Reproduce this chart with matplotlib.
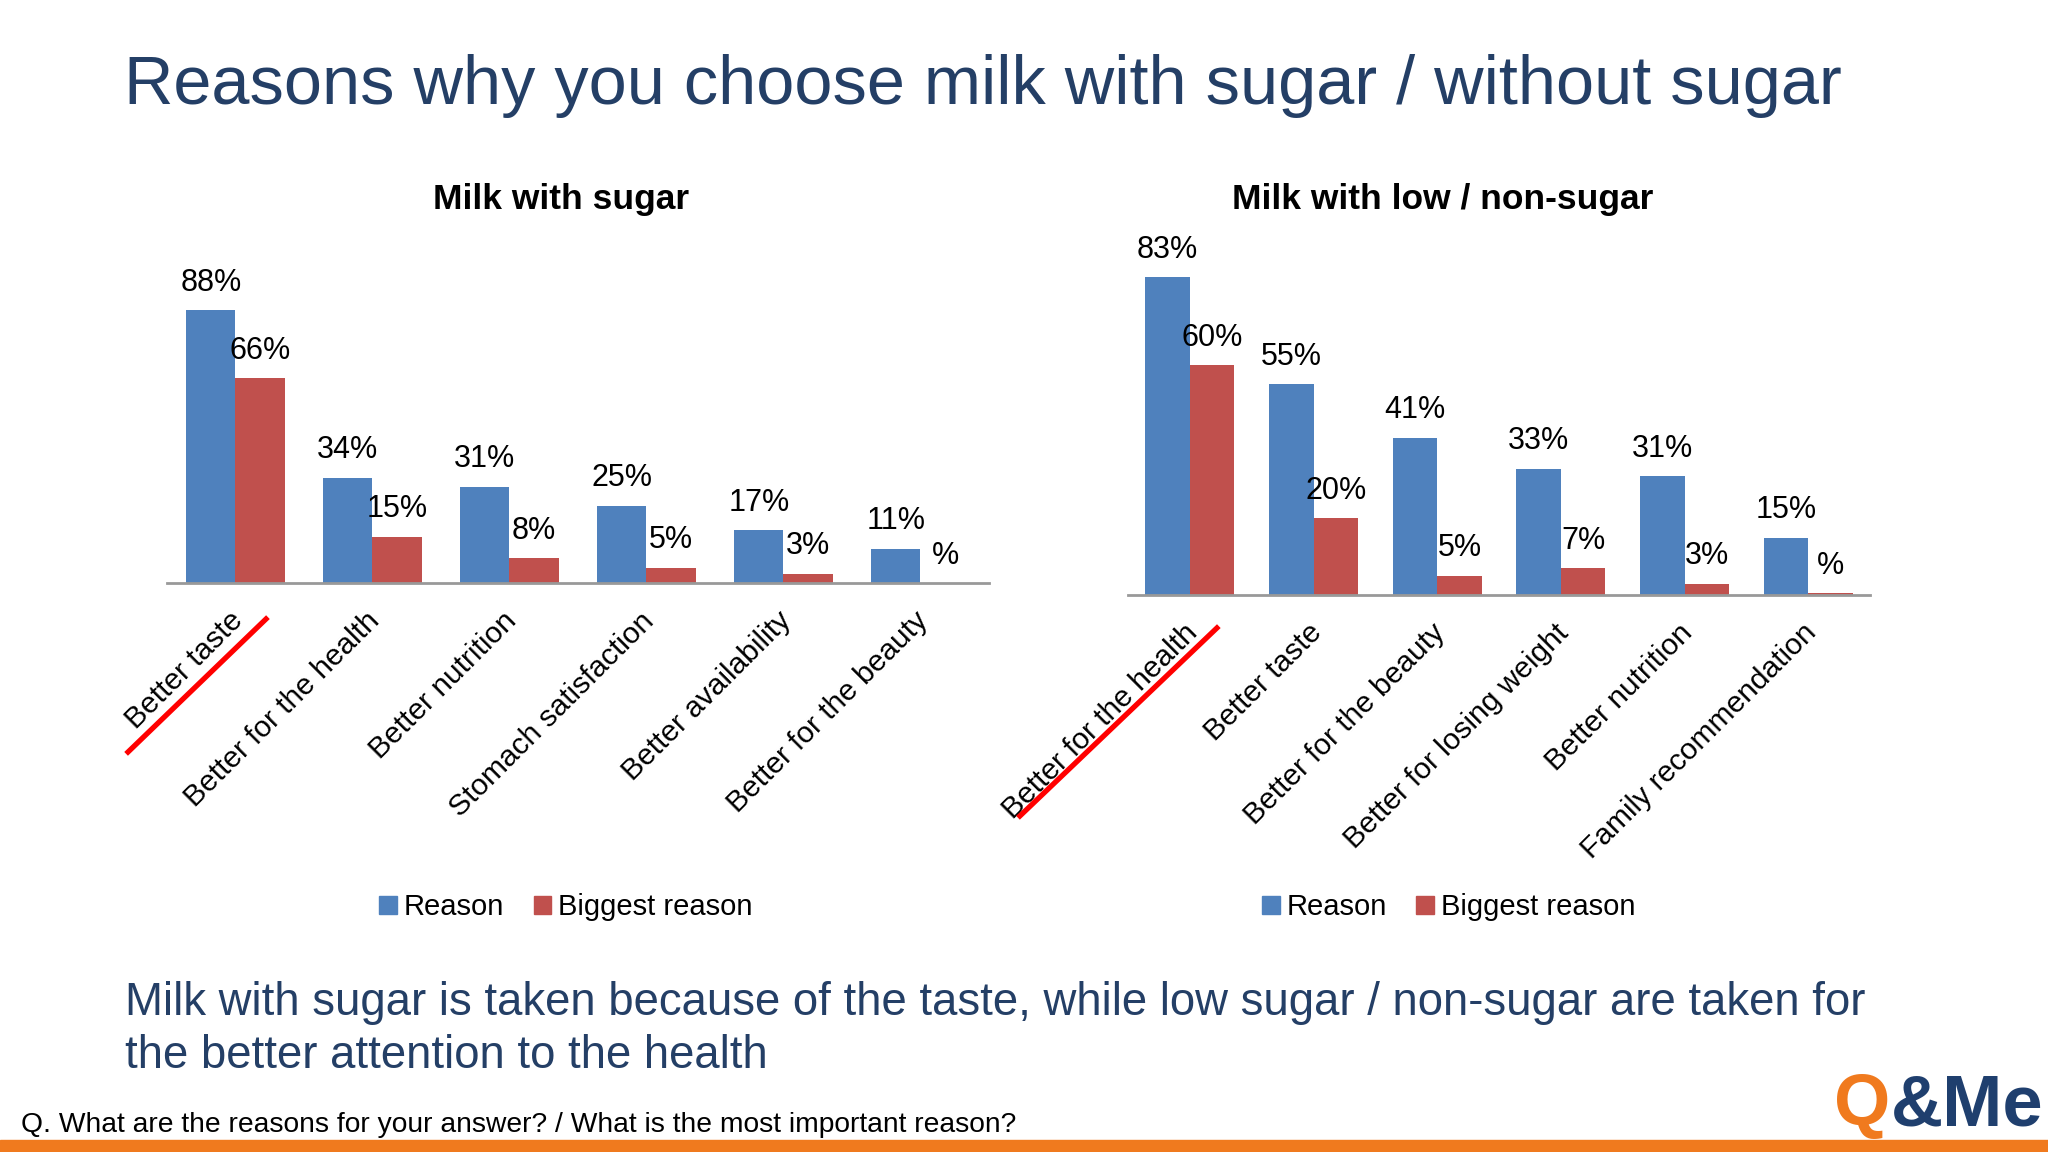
import matplotlib
matplotlib.use("Agg")
import matplotlib.pyplot as plt
from matplotlib.lines import Line2D
from matplotlib.patches import Rectangle, Patch
import numpy as np

plt.rcParams['font.family'] = ['Liberation Sans', 'DejaVu Sans']

# ==========================
# Data
# ==========================
sugar_cats = ["Better taste", "Better for the health", "Better nutrition",
              "Stomach satisfaction", "Better availability", "Better for the beauty"]
sugar_reason = [88, 34, 31, 25, 17, 11]
sugar_biggest = [66, 15, 8, 5, 3, 0]
sugar_reason_lbl = ["88%", "34%", "31%", "25%", "17%", "11%"]
sugar_biggest_lbl = ["66%", "15%", "8%", "5%", "3%", "%"]

low_cats = ["Better for the health", "Better taste", "Better for the beauty",
            "Better for losing weight", "Better nutrition", "Family recommendation"]
low_reason = [83, 55, 41, 33, 31, 15]
low_biggest = [60, 20, 5, 7, 3, 0.4]
low_reason_lbl = ["83%", "55%", "41%", "33%", "31%", "15%"]
low_biggest_lbl = ["60%", "20%", "5%", "7%", "3%", "%"]

BLUE = "#4F81BD"
RED = "#C0504D"
NAVY = "#243F66"
ORANGE = "#F07A1E"

fig = plt.figure(figsize=(20.48, 11.52), dpi=100)
fig.patch.set_facecolor("white")


def draw_chart(ax, cats, reason, biggest, reason_lbl, biggest_lbl):
    x = np.arange(len(cats))
    w = 0.36
    b1 = ax.bar(x - w / 2, reason, w, color=BLUE)
    b2 = ax.bar(x + w / 2, biggest, w, color=RED)
    for bars, lbls in [(b1, reason_lbl), (b2, biggest_lbl)]:
        for bar, lbl in zip(bars, lbls):
            ax.annotate(lbl, (bar.get_x() + bar.get_width() / 2, bar.get_height()),
                        xytext=(0, 9), textcoords="offset points",
                        ha="center", va="bottom", fontsize=22, color="black")
    ax.set_xlim(-0.5, len(cats) - 0.5)
    ax.set_ylim(0, 100)
    # labels sit a touch left of the group centre, like the original slide
    ax.set_xticks(x - 0.05)
    ax.set_xticklabels(cats, rotation=45, ha="right", va="top",
                       rotation_mode="anchor", fontsize=21.5)
    ax.tick_params(axis="x", length=0, pad=17)
    ax.set_yticks([])
    for s in ["top", "right", "left"]:
        ax.spines[s].set_visible(False)
    ax.spines["bottom"].set_color("#999999")
    ax.spines["bottom"].set_linewidth(2)
    ax.patch.set_alpha(0)


ax1 = fig.add_axes([0.0815, 0.4939, 0.4014, 0.2691])
draw_chart(ax1, sugar_cats, sugar_reason, sugar_biggest, sugar_reason_lbl, sugar_biggest_lbl)

ax2 = fig.add_axes([0.5508, 0.4835, 0.3623, 0.3325])
draw_chart(ax2, low_cats, low_reason, low_biggest, low_reason_lbl, low_biggest_lbl)

# chart titles
fig.text(0.2742, 0.827, "Milk with sugar", ha="center", va="center",
         fontsize=25.5, fontweight="bold")
fig.text(0.7046, 0.827, "Milk with low / non-sugar", ha="center", va="center",
         fontsize=25.5, fontweight="bold")

# legends
handles = [Patch(color=BLUE, label="Reason"), Patch(color=RED, label="Biggest reason")]
for cx in [0.2764, 0.7075]:
    fig.legend(handles=handles, loc="center", bbox_to_anchor=(cx, 0.2125), ncol=2,
               frameon=False, fontsize=21, handlelength=0.6, handleheight=0.6,
               handletextpad=0.25, columnspacing=1.0)

# red underline annotations
fig.add_artist(Line2D([0.0625, 0.1299], [0.3472, 0.4627], color="#FF0000", lw=3.8))
fig.add_artist(Line2D([0.4980, 0.5942], [0.2917, 0.4549], color="#FF0000", lw=3.8))

# slide title
fig.text(0.0605, 0.9093, "Reasons why you choose milk with sugar / without sugar",
         ha="left", va="baseline", fontsize=49.3, color=NAVY)

# conclusion
fig.text(0.061, 1 - 1015 / 1152,
         "Milk with sugar is taken because of the taste, while low sugar / non-sugar are taken for",
         ha="left", va="baseline", fontsize=32.8, color=NAVY)
fig.text(0.061, 1 - 1068 / 1152, "the better attention to the health",
         ha="left", va="baseline", fontsize=32.8, color=NAVY)

# footer question
fig.text(0.0103, 1 - 1132 / 1152,
         "Q. What are the reasons for your answer? / What is the most important reason?",
         ha="left", va="baseline", fontsize=20.3, color="black")

# orange strip
fig.add_artist(Rectangle((0, 0), 1, 0.0100, transform=fig.transFigure,
                         color=ORANGE, zorder=5))

# logo, built from the right edge so it stays inside the slide
me = fig.text(2044 / 2048, 1 - 1125 / 1152, "&Me", ha="right", va="baseline",
              fontsize=52, fontweight="bold", color="#1F3F6E")
fig.canvas.draw()
bb = me.get_window_extent()
fig.text((bb.x0 - 1) / 2048, 1 - 1125 / 1152, "Q", ha="right", va="baseline",
         fontsize=52, fontweight="bold", color=ORANGE)

fig.savefig("out.png", dpi=100, facecolor="white")
